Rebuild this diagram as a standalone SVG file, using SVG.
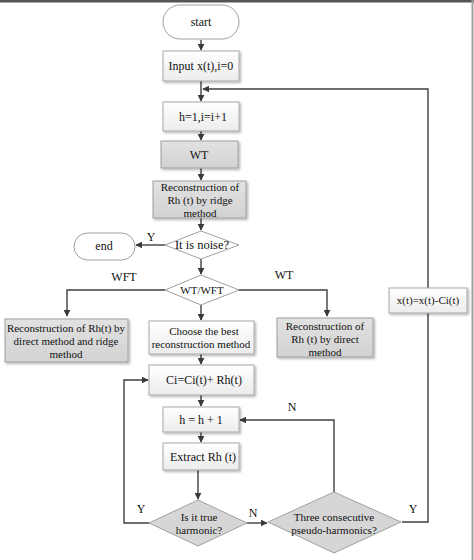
<svg xmlns="http://www.w3.org/2000/svg" width="474" height="560" viewBox="0 0 474 560">
<defs>
<linearGradient id="lg" x1="0" y1="0" x2="0" y2="1"><stop offset="0" stop-color="#ffffff"/><stop offset="1" stop-color="#ececec"/></linearGradient>
<linearGradient id="gg" x1="0" y1="0" x2="0" y2="1"><stop offset="0" stop-color="#e2e2e2"/><stop offset="1" stop-color="#d2d2d2"/></linearGradient>
<filter id="sh" x="-10%" y="-10%" width="130%" height="140%"><feDropShadow dx="1.5" dy="1.5" stdDeviation="0.8" flood-color="#000" flood-opacity="0.3"/></filter>
<marker id="ar" viewBox="0 0 10 10" refX="9" refY="5" markerWidth="7" markerHeight="7" orient="auto" markerUnits="userSpaceOnUse"><path d="M0,0 L10,5 L0,10 Z" fill="#3a3a3a"/></marker>
</defs>
<style>
.l{fill:url(#lg);stroke:#a8a8a8;stroke-width:1;filter:url(#sh)}
.g{fill:url(#gg);stroke:#a0a0a0;stroke-width:1;filter:url(#sh)}
.d{fill:#d6d6d6;stroke:#a0a0a0;stroke-width:1}
.dw{fill:#ffffff;stroke:#a0a0a0;stroke-width:1}
.c{fill:none;stroke:#3f3f3f;stroke-width:1.4}
text{font-family:"Liberation Serif","Times New Roman",serif;font-size:12px;fill:#111;text-anchor:middle}
text.s{font-size:11px}
</style>
<rect x="0" y="0" width="474" height="560" fill="#ffffff"/>
<rect x="0" y="0" width="474" height="2.5" fill="#555555"/>
<rect x="471.5" y="0" width="2" height="560" fill="#a0a0a0"/>

<g id="connectors">
<path class="c" d="M201,40 V50" marker-end="url(#ar)"/>
<path class="c" d="M201,81 V101" marker-end="url(#ar)"/>
<path class="c" d="M402,522 H428 V89 H203" marker-end="url(#ar)"/>
<path class="c" d="M201,131 V140" marker-end="url(#ar)"/>
<path class="c" d="M201,168 V180" marker-end="url(#ar)"/>
<path class="c" d="M201,218 V230" marker-end="url(#ar)"/>
<path class="c" d="M165,245 H136" marker-end="url(#ar)"/>
<path class="c" d="M201,259 V274" marker-end="url(#ar)"/>
<path class="c" d="M165,290 H67 V316" marker-end="url(#ar)"/>
<path class="c" d="M239,290 H327 V316" marker-end="url(#ar)"/>
<path class="c" d="M201,305 V320" marker-end="url(#ar)"/>
<path class="c" d="M201,354 V364" marker-end="url(#ar)"/>
<path class="c" d="M201,395 V406" marker-end="url(#ar)"/>
<path class="c" d="M201,432 V442" marker-end="url(#ar)"/>
<path class="c" d="M198,470 V499" marker-end="url(#ar)"/>
<path class="c" d="M149,523 H124 V380 H148" marker-end="url(#ar)"/>
<path class="c" d="M247,523 H267" marker-end="url(#ar)"/>
<path class="c" d="M334,492 V420 H240" marker-end="url(#ar)"/>
<text x="151" y="241">Y</text>
<text x="124" y="281">WFT</text>
<text x="284" y="279">WT</text>
<text x="292" y="411">N</text>
<text x="253" y="517">N</text>
<text x="141" y="513">Y</text>
<text x="413" y="513">Y</text>
</g>

<g id="start"><rect class="dw" x="163" y="5" width="76" height="34" rx="17" ry="17"/><text x="201" y="26">start</text></g>
<g id="input"><rect class="l" x="163" y="51" width="76" height="30"/><text x="201" y="70">Input x(t),i=0</text></g>
<g id="init"><rect class="l" x="163" y="102" width="76" height="29"/><text x="203" y="121">h=1,i=i+1</text></g>
<g id="wt"><rect class="g" x="161" y="141" width="77" height="27"/><text x="199" y="159">WT</text></g>
<g id="ridge"><rect class="g" x="153" y="181" width="93" height="37"/><text class="s" x="200" y="191">Reconstruction of</text><text class="s" x="200" y="204">Rh (t) by ridge</text><text class="s" x="200" y="217">method</text></g>
<g id="noise"><polygon class="dw" points="201,231 239,245 201,259 165,245"/><text x="202" y="249" style="font-size:12.5px">It is noise?</text></g>
<g id="end"><rect class="dw" x="74" y="233" width="61" height="27" rx="13.5" ry="13.5"/><text x="104" y="250">end</text></g>
<g id="choice"><polygon class="dw" points="201,275 239,290 201,305 165,290"/><text class="s" x="202" y="294">WT/WFT</text></g>
<g id="leftbox"><rect class="g" x="5" y="319" width="123" height="43"/><text class="s" x="66" y="332">Reconstruction of Rh(t) by</text><text class="s" x="66" y="345">direct method and ridge</text><text class="s" x="66" y="358">method</text></g>
<g id="midbox"><rect class="l" x="149" y="321" width="105" height="33"/><text class="s" x="204" y="335">Choose the best</text><text class="s" x="201" y="348">reconstruction method</text></g>
<g id="rightbox"><rect class="g" x="277" y="318" width="96" height="39"/><text class="s" x="325" y="330">Reconstruction of</text><text class="s" x="325" y="343">Rh (t) by direct</text><text class="s" x="325" y="356">method</text></g>
<g id="ci"><rect class="l" x="149" y="365" width="105" height="30"/><text x="204" y="384">Ci=Ci(t)+ Rh(t)</text></g>
<g id="hinc"><rect class="l" x="163" y="407" width="76" height="25"/><text x="201" y="424">h = h + 1</text></g>
<g id="extract"><rect class="l" x="163" y="443" width="76" height="27"/><text x="203" y="461">Extract Rh (t)</text></g>
<g id="harmonic"><polygon class="d" points="198,500 247,523 198,546 149,523"/><text class="s" x="199" y="521">Is it true</text><text class="s" x="199" y="534">harmonic?</text></g>
<g id="three"><polygon class="d" points="334,492 401,522 334,553 268,522"/><text class="s" x="334" y="521">Three consecutive</text><text class="s" x="334" y="534">pseudo-harmonics?</text></g>
<g id="update"><rect class="l" x="389" y="288" width="78" height="25"/><text class="s" x="428" y="304">x(t)=x(t)-Ci(t)</text></g>
</svg>
